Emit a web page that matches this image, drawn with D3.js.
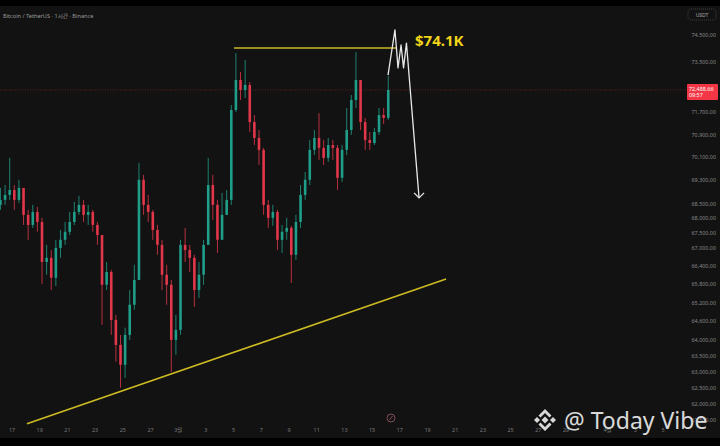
<!DOCTYPE html>
<html>
<head>
<meta charset="utf-8">
<script src="https://cdn.jsdelivr.net/npm/d3@7"></script>
<style>
  body { margin: 0; background: #000; }
  svg { display: block; }
  text { font-family: 'Noto Sans', 'Noto Sans CJK KR', sans-serif; }
</style>
</head>
<body>
<div id="chart"></div>
<script>
// 8h candles, day 0 = Feb 17
const firstDay = -1
const candlesPerDay = 3
const firstOpen = 68460

const closes = [68630,68800,68970,68630,69040,68120,67780,68220,67880,66540,
  66680,66020,67010,67280,67550,67880,68220,68460,68120,68220,
  67780,67440,65790,66210,64650,63850,63220,64170,65140,65950,
  69320,68460,68220,67610,67110,66120,65790,64010,64330,67110,
  66940,66680,65620,66120,67110,69140,68460,67280,68120,68630,
  71770,72850,72490,72670,71340,70780,70360,68460,68020,68220,
  67280,67550,67680,66780,67880,68800,69320,70360,70780,70430,
  70080,70530,70430,69390,70360,71060,72130,72850,71340,70710,
  70600,70990,71590,71490,72490]

const highs = [69040,69140,70080,69140,69320,68970,68290,68460,68390,68020,
  67110,66940,67280,67610,67880,68220,68560,68770,68630,68460,
  68290,67880,67440,66540,66280,64810,64170,64400,65620,66450,
  69900,69490,68800,68290,67780,67280,66450,65950,64810,67280,
  67680,67110,66780,66540,67280,70080,69490,68630,68870,68970,
  71950,73830,73140,73580,72780,71590,71060,70430,68630,68460,
  68290,67780,68020,67750,68120,69140,69590,70710,71060,71660,
  70710,70780,70710,70530,70530,71840,72310,73870,72850,71490,
  70990,71130,71840,71840,72990]

const lows = [68290,68460,68630,68290,68520,67780,67280,67680,67550,65820,
  66120,65620,65750,66680,67110,67440,67780,68120,67880,67780,
  67550,67110,64490,65620,64170,63320,62500,62810,64010,64980,
  65950,68120,67880,67280,66780,65620,65140,63000,63540,64170,
  66540,66210,65070,65360,65790,67110,67950,66840,67440,68120,
  68460,71700,72130,72200,70990,70530,69830,68120,67680,67750,
  66940,66840,67280,65850,66610,67680,68630,69140,70180,70010,
  69830,69940,70010,68970,69250,70180,70890,71840,71060,70360,
  70360,70530,70890,71270,71420]

const priceTicks = [74500,73500,71700,70900,70100,69300,68500,68000,67500,67000,
  66400,65800,65200,64600,64000,63500,63000,62500,62000,61500]

const dayTicks = [0,2,4,6,8,10,12,14,16,18,20,22,24,26,28,30,32,34,36,38,40,43,45,47]
const dayLabels = ['17','19','21','23','25','27','3월','3','5','7','9','11','13','15',
  '17','19','21','23','25','27','29','4월','3','5']

const lastPrice = 72488.66
const countdown = '09:57'
const resistance = { from: 16.03, to: 27.73, price: 74020 }
const trendLine = [{ day: 1.08, price: 61390 }, { day: 31.34, price: 65980 }]
const projection = [
  { day: 27.15, price: 73030 }, { day: 27.65, price: 74690 }, { day: 27.87, price: 73290 },
  { day: 28.09, price: 74130 }, { day: 28.27, price: 73290 }, { day: 28.48, price: 74200 },
  { day: 29.39, price: 68700 }]
const targetLabel = { day: 29.1, price: 74090, text: '$74.1K' }

function draw(el) {
  const dimensions = { width: 720, height: 446, top: 6, bottom: 438, plotRight: 686 }

  const candles = closes.map((c, i) => ({
    day: firstDay + (i + 0.5) / candlesPerDay,
    open: i === 0 ? firstOpen : closes[i - 1],
    close: c,
    high: highs[i],
    low: lows[i],
  }))

  const x = d3.scaleLinear().domain([0, 47]).range([12, 12 + 47 * 13.85])
  const y = d3.scaleLog().domain([74500, 62000]).range([35, 404])
  const step = x(1 / candlesPerDay) - x(0)
  const up = '#1f9e89', down = '#e2364a'

  const svg = d3.select(el)
    .append('svg')
    .attr('width', dimensions.width)
    .attr('height', dimensions.height)

  svg.append('rect')
    .attr('width', dimensions.width)
    .attr('height', dimensions.height)
    .attr('fill', '#000')
  svg.append('rect')
    .attr('y', dimensions.top)
    .attr('width', dimensions.width)
    .attr('height', dimensions.bottom - dimensions.top)
    .attr('fill', '#121212')

  svg.append('clipPath').attr('id', 'plot')
    .append('rect')
    .attr('y', dimensions.top)
    .attr('width', dimensions.plotRight)
    .attr('height', dimensions.bottom - dimensions.top)

  // title
  svg.append('text')
    .attr('x', 3).attr('y', 18)
    .attr('font-size', 5.6)
    .attr('fill', '#9a9a9a')
    .text('Bitcoin / TetherUS · 1시간 · Binance')

  // current price line
  svg.append('line')
    .attr('x1', 0).attr('x2', dimensions.plotRight)
    .attr('y1', y(lastPrice)).attr('y2', y(lastPrice))
    .attr('stroke', '#7a2428')
    .attr('stroke-width', 0.8)
    .attr('stroke-dasharray', '1,1.5')

  const plot = svg.append('g').attr('clip-path', 'url(#plot)')

  const candle = plot.append('g')
    .selectAll('g')
    .data(candles)
    .join('g')
    .attr('fill', d => d.close >= d.open ? up : down)
    .attr('stroke', d => d.close >= d.open ? up : down)

  candle.append('line')
    .attr('x1', d => x(d.day)).attr('x2', d => x(d.day))
    .attr('y1', d => y(d.high)).attr('y2', d => y(d.low))
    .attr('stroke-width', 0.8)

  candle.append('rect')
    .attr('stroke', 'none')
    .attr('x', d => x(d.day) - step * 0.28)
    .attr('width', step * 0.56)
    .attr('y', d => y(Math.max(d.open, d.close)))
    .attr('height', d => Math.max(1, Math.abs(y(d.open) - y(d.close))))

  // resistance
  plot.append('line')
    .attr('x1', x(resistance.from)).attr('x2', x(resistance.to))
    .attr('y1', y(resistance.price)).attr('y2', y(resistance.price))
    .attr('stroke', '#c9b82a')
    .attr('stroke-width', 1.3)

  // rising trend line
  plot.append('line')
    .attr('x1', x(trendLine[0].day)).attr('y1', y(trendLine[0].price))
    .attr('x2', x(trendLine[1].day)).attr('y2', y(trendLine[1].price))
    .attr('stroke', '#cdbb22')
    .attr('stroke-width', 1.6)

  // projected move
  const line = d3.line().x(d => x(d.day)).y(d => y(d.price))
  plot.append('path')
    .attr('d', line(projection))
    .attr('fill', 'none')
    .attr('stroke', '#e8e8e8')
    .attr('stroke-width', 1.3)
    .attr('stroke-linejoin', 'round')

  const tip = projection[projection.length - 1]
  const tx = x(tip.day), ty = y(tip.price)
  plot.append('path')
    .attr('d', `M${tx - 5},${ty - 5}L${tx},${ty}L${tx + 5},${ty - 5}`)
    .attr('fill', 'none')
    .attr('stroke', '#e8e8e8')
    .attr('stroke-width', 1.3)

  svg.append('text')
    .attr('x', x(targetLabel.day)).attr('y', y(targetLabel.price))
    .attr('font-size', 15)
    .attr('font-weight', 'bold')
    .attr('fill', '#f0d419')
    .text(targetLabel.text)

  // price axis
  svg.append('g')
    .selectAll('text')
    .data(priceTicks)
    .join('text')
    .attr('x', 716)
    .attr('y', d => y(d) + 2)
    .attr('text-anchor', 'end')
    .attr('font-size', 5.4)
    .attr('fill', '#8a8a8a')
    .text(d => d3.format(',.2f')(d))

  // time axis
  svg.append('g')
    .selectAll('text')
    .data(dayTicks)
    .join('text')
    .attr('x', d => x(d))
    .attr('y', 432)
    .attr('text-anchor', 'middle')
    .attr('font-size', 5.4)
    .attr('fill', '#7a7a7a')
    .text((d, i) => dayLabels[i])

  // currency box
  svg.append('rect')
    .attr('x', 688).attr('y', 9).attr('width', 28).attr('height', 11).attr('rx', 3)
    .attr('fill', 'none')
    .attr('stroke', '#555')
    .attr('stroke-width', 0.7)
    .attr('stroke-dasharray', '1,1')
  svg.append('text')
    .attr('x', 702).attr('y', 16.5)
    .attr('text-anchor', 'middle')
    .attr('font-size', 5)
    .attr('fill', '#aaa')
    .text('USDT')

  // price tag
  const py = y(lastPrice)
  svg.append('rect')
    .attr('x', 687).attr('y', py - 6).attr('width', 31).attr('height', 16)
    .attr('rx', 1)
    .attr('fill', '#f23645')
  svg.append('text')
    .attr('x', 689).attr('y', py + 1)
    .attr('font-size', 5.4)
    .attr('fill', '#fff')
    .text(d3.format(',.2f')(lastPrice))
  svg.append('text')
    .attr('x', 689).attr('y', py + 7.5)
    .attr('font-size', 5.4)
    .attr('fill', '#fff')
    .text(countdown)

  // small replay icon
  svg.append('circle')
    .attr('cx', 391).attr('cy', 418).attr('r', 4)
    .attr('fill', 'none')
    .attr('stroke', '#9a5a68')
    .attr('stroke-width', 0.8)
  svg.append('path')
    .attr('d', 'M389.5,420L392.5,416')
    .attr('stroke', '#9a5a68')
    .attr('stroke-width', 0.8)

  // watermark
  const logo = svg.append('g').attr('fill', '#e4e4e4').attr('opacity', 0.95)
  logo.append('path').attr('d', 'M545,416.5L548.5,420L545,423.5L541.5,420Z')
  logo.append('path').attr('d', 'M537,417L540,420L537,423L534,420Z')
  logo.append('path').attr('d', 'M553,417L556,420L553,423L550,420Z')
  logo.append('path').attr('d', 'M538.5,415.5L545,409L551.5,415.5L549.5,417.5L545,413L540.5,417.5Z')
  logo.append('path').attr('d', 'M538.5,424.5L545,431L551.5,424.5L549.5,422.5L545,427L540.5,422.5Z')

  svg.append('text')
    .attr('x', 564).attr('y', 429)
    .attr('font-family', "'Open Sans', 'Noto Sans', sans-serif")
    .attr('font-size', 23)
    .attr('fill', '#e4e4e4')
    .attr('opacity', 0.95)
    .text('@ Today Vibe')
}

draw('#chart')
</script>
</body>
</html>
